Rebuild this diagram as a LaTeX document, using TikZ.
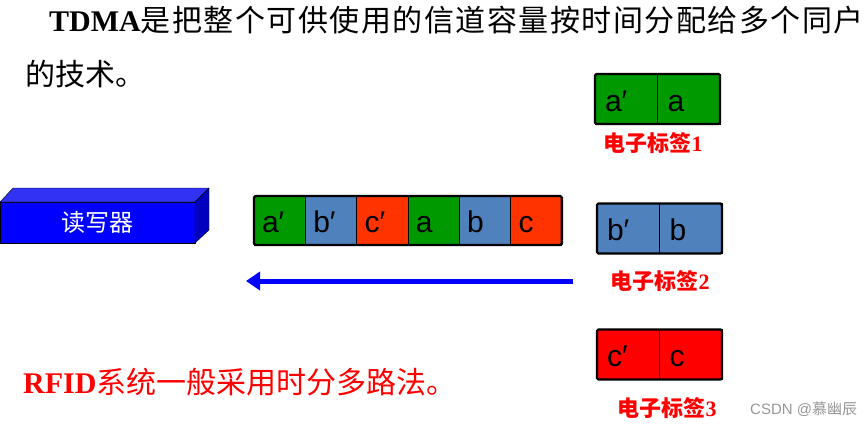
\documentclass[tikz,border=0pt]{standalone}
\usepackage{fontspec}
\setmainfont{Liberation Serif}
\newfontfamily\cjk{Noto Sans CJK SC}
\newfontfamily\cjkwide[LetterSpace=5]{Noto Sans CJK SC}
\newfontfamily\arial{Liberation Sans}
\usetikzlibrary{arrows.meta, positioning}

\definecolor{slotgreen}{RGB}{0,153,0}
\definecolor{slotblue}{RGB}{79,129,189}
\definecolor{slotorange}{RGB}{255,51,0}
\definecolor{tagred}{RGB}{255,0,0}
\definecolor{readerfront}{RGB}{0,0,255}
\definecolor{readertop}{RGB}{50,50,245}
\definecolor{readerside}{RGB}{0,0,190}
\definecolor{markgray}{RGB}{150,150,150}

\begin{document}
\begin{tikzpicture}[x=1pt, y=-1pt,
    txt/.style={inner sep=0pt, anchor=base west, font=\fontsize{30}{36}\selectfont},
    cell/.style={draw, line width=0.8pt, outer sep=0pt, inner ysep=0pt, align=left,
        text height=36pt, text depth=13pt, font=\arial\fontsize{30}{30}\selectfont},
    pcell/.style={cell, text width=35.3pt, inner xsep=8pt},
    tcell/.style={cell, text width=42.5pt, inner xsep=10pt, text height=37pt},
    frame/.style={line width=2.4pt, rounded corners=1.5pt},
    tagname/.style={inner sep=0pt, anchor=base, text=tagred, font=\fontsize{22}{26}\selectfont\bfseries},
    reader/.style={draw, thin, fill=readerfront, outer sep=0pt, minimum width=195pt,
        minimum height=41pt, text=white, font=\cjk\fontsize{24}{26}\selectfont},
    signal/.style={readerfront, line width=5pt, -{Triangle[length=14pt, width=18pt]}}]
        \useasboundingbox (0,0) rectangle (865,424);

        % Text lines
        \node[txt] (line1) at (49,31) {{\bfseries TDMA}{\cjkwide 是把整个可供使用的信道容量按时间分配给多个同户}};
        \node[txt] (line2) at (25,85) {\cjk 的技术。};
        \node[txt, text=tagred] (rfid) at (23,393) {{\bfseries RFID}{\cjk 系统一般采用时分多路法。}};

        % Reader
        \node[reader] (rd) at (97.5,222.5) {读写器};
        \filldraw[fill=readertop, thin] (rd.north west) -- ++(13,-14) -- ([shift={(14,-14)}]rd.north east) -- (rd.north east) -- cycle;
        \filldraw[fill=readerside, thin] (rd.north east) -- ++(14,-14) -- ++(0,42) -- (rd.south east) -- cycle;

        % Time slots
        \node[pcell, fill=slotgreen, anchor=north west] (s1) at (254,196) {a′};
        \node[pcell, fill=slotblue, right=0pt of s1] (s2) {b′};
        \node[pcell, fill=slotorange, right=0pt of s2] (s3) {c′};
        \node[pcell, fill=slotgreen, right=0pt of s3] (s4) {a};
        \node[pcell, fill=slotblue, right=0pt of s4] (s5) {b};
        \node[pcell, fill=slotorange, right=0pt of s5] (s6) {c};
        \draw[frame] (s1.north west) rectangle (s6.south east);

        % Tags
        \node[tcell, fill=slotgreen, anchor=west] (t1a) at (595,99) {a′};
        \node[tcell, fill=slotgreen, right=0pt of t1a] (t1b) {a};
        \draw[frame] (t1a.north west) rectangle (t1b.south east);
        \node[tcell, fill=slotblue, anchor=west] (t2a) at (597,228.5) {b′};
        \node[tcell, fill=slotblue, right=0pt of t2a] (t2b) {b};
        \draw[frame] (t2a.north west) rectangle (t2b.south east);
        \node[tcell, fill=tagred, anchor=west] (t3a) at (597,354.5) {c′};
        \node[tcell, fill=tagred, right=0pt of t3a] (t3b) {c};
        \draw[frame] (t3a.north west) rectangle (t3b.south east);

        \node[tagname] (n1) at (653,151) {{\cjk 电子标签}1};
        \node[tagname] (n2) at (660,289) {{\cjk 电子标签}2};
        \node[tagname] (n3) at (667,416) {{\cjk 电子标签}3};

        % Signal
        \coordinate (from) at (573,281);
        \coordinate (to) at (246,281);
        \draw[signal] (from) -- (to);

        \node[inner sep=0pt, anchor=base west, text=markgray, font=\arial\fontsize{15}{18}\selectfont] (mark) at (750,414) {CSDN @{\cjk 慕幽辰}};
    \end{tikzpicture}
\end{document}
